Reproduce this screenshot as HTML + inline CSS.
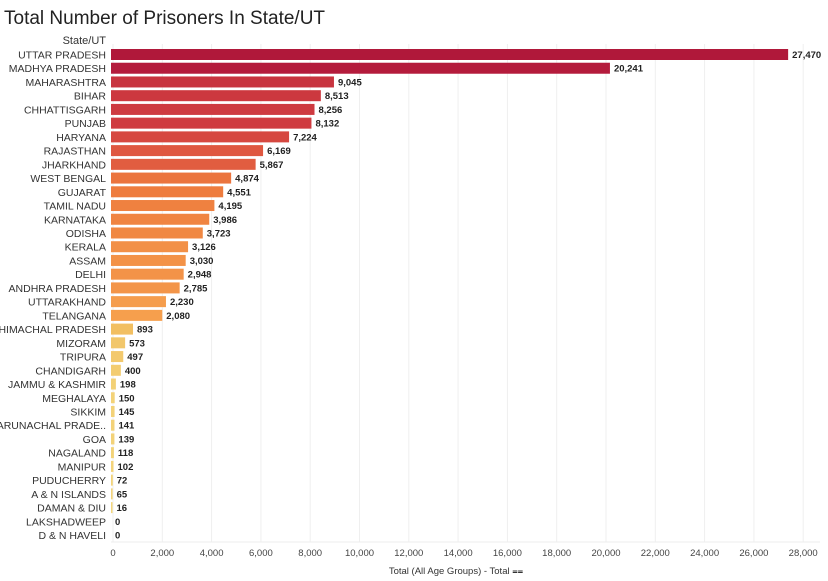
<!DOCTYPE html>
<html><head><meta charset="utf-8"><style>
body{margin:0;background:#fff;width:828px;height:581px;overflow:hidden;font-family:"Liberation Sans",sans-serif}
</style></head><body>
<svg id="chart" width="828" height="581" style="position:absolute;left:0;top:0">
<text x="4" y="24" font-size="19" fill="#222">Total Number of Prisoners In State/UT</text>
<text x="106" y="44" font-size="11" fill="#333" text-anchor="end">State/UT</text>
<g id="grid"></g><g id="bars"></g><g id="xticks"></g>
<text x="456" y="574" font-size="9.5" fill="#333" text-anchor="middle">Total (All Age Groups) - Total ⩵</text>
</svg>
<script>
const states=["UTTAR PRADESH","MADHYA PRADESH","MAHARASHTRA","BIHAR","CHHATTISGARH","PUNJAB","HARYANA","RAJASTHAN","JHARKHAND","WEST BENGAL","GUJARAT","TAMIL NADU","KARNATAKA","ODISHA","KERALA","ASSAM","DELHI","ANDHRA PRADESH","UTTARAKHAND","TELANGANA","HIMACHAL PRADESH","MIZORAM","TRIPURA","CHANDIGARH","JAMMU & KASHMIR","MEGHALAYA","SIKKIM","ARUNACHAL PRADE..","GOA","NAGALAND","MANIPUR","PUDUCHERRY","A & N ISLANDS","DAMAN & DIU","LAKSHADWEEP","D & N HAVELI"];
const totals=[27470,20241,9045,8513,8256,8132,7224,6169,5867,4874,4551,4195,3986,3723,3126,3030,2948,2785,2230,2080,893,573,497,400,198,150,145,141,139,118,102,72,65,16,0,0];
const ticks=[0,2000,4000,6000,8000,10000,12000,14000,16000,18000,20000,22000,24000,26000,28000];
const NS="http://www.w3.org/2000/svg";
const x0=111,k=0.02465,y0=54.5,step=13.73,bh=11;
const xs=v=>x0+v*k, ys=i=>y0+i*step;
const stops=[[0,[243,214,124]],[1000,[242,188,94]],[2000,[246,160,78]],[4500,[238,125,62]],[6000,[224,90,64]],[8000,[208,60,64]],[9000,[200,52,63]],[20000,[180,27,60]],[28000,[176,24,58]]];
function col(v){for(let i=1;i<stops.length;i++){if(v<=stops[i][0]){const a=stops[i-1],b=stops[i],t=(v-a[0])/(b[0]-a[0]);return "rgb("+a[1].map((c,j)=>Math.round(c+(b[1][j]-c)*t)).join(",")+")";}}return "rgb(176,24,58)";}
function mk(t,a,p){const e=document.createElementNS(NS,t);for(const q in a)e.setAttribute(q,a[q]);p.appendChild(e);return e;}
const fmt=v=>v.toLocaleString("en-US");
const G=document.getElementById("grid"),B=document.getElementById("bars"),X=document.getElementById("xticks");
ticks.forEach(t=>{
const l=mk("line",{x1:xs(t)+2,x2:xs(t)+2,y1:44,y2:542,stroke:"#efefef","stroke-width":1},G);


const tx=mk("text",{x:xs(t)+2,y:556,"font-size":9.5,fill:"#444","text-anchor":"middle"},X);
tx.textContent=fmt(t);


});
mk("line",{x1:x0,x2:820,y1:542,y2:542,stroke:"#eee"},G);
states.forEach((s,i)=>{
const y=ys(i),v=totals[i];
const lb=mk("text",{x:106,y:y+4,"font-size":10.5,fill:"#333","text-anchor":"end"},B);
lb.textContent=s;


const w=Math.max(v*k,v>0?1.5:0);
const r=mk("rect",{x:x0,y:y-bh/2,width:w,height:bh,fill:col(v)},B);


const vl=mk("text",{x:x0+w+4,y:y+3.5,"font-size":9.5,fill:"#222","font-weight":"bold"},B);
vl.textContent=fmt(v);


});
</script>
</body></html>
